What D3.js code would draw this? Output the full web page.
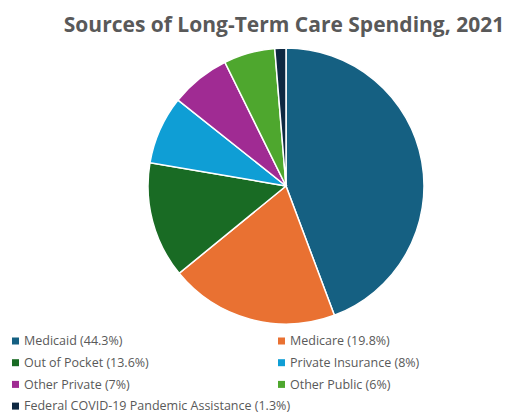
<!DOCTYPE html>
<html><head><meta charset="utf-8">
<script src="https://cdn.jsdelivr.net/npm/d3@7"></script>
<style>body{margin:0;background:#fff}</style></head>
<body><svg id="c" width="522" height="417"></svg>
<script>
const categories = ["Medicaid","Medicare","Out of Pocket","Private Insurance","Other Private","Other Public","Federal COVID-19 Pandemic Assistance"];
const values = [44.3,19.8,13.6,8,7,6,1.3];
const labels = ["Medicaid (44.3%)","Medicare (19.8%)","Out of Pocket (13.6%)","Private Insurance (8%)","Other Private (7%)","Other Public (6%)","Federal COVID-19 Pandemic Assistance (1.3%)"];
const colors = ["#156082","#E97132","#196B24","#0F9ED5","#A02B93","#4EA72E","#0E2841"];

const svg = d3.select("#c");
svg.append("text").attr("x",284).attr("y",32).attr("text-anchor","middle")
  .attr("font-family","'Open Sans',sans-serif").attr("font-weight","bold").attr("font-size",21)
  .attr("fill","#595959").text("Sources of Long-Term Care Spending, 2021");

const color = d3.scaleOrdinal().domain(categories).range(colors);
const pie = d3.pie().value(d=>d.v).sort(null);
const arc = d3.arc().innerRadius(0).outerRadius(138);
const data = categories.map((c,i)=>({c, v: values[i]}));
svg.append("g").attr("transform","translate(286,186)")
  .selectAll("path").data(pie(data)).join("path")
  .attr("d",arc).attr("fill",d=>color(d.data.c))
  .attr("stroke","#fff").attr("stroke-width",1.5);

const lg = svg.append("g").attr("font-family","'Open Sans',sans-serif").attr("font-size",12.5).attr("fill","#595959");
categories.forEach((c,i)=>{
  const col=i%2, row=Math.floor(i/2);
  const x = col? 278:12, y = 341 + row*21.7;
  lg.append("rect").attr("x",x).attr("y",y-3.5).attr("width",7).attr("height",7).attr("fill",color(c));
  lg.append("text").attr("x",x+12).attr("y",y).attr("dy","0.35em").text(labels[i]);
});
</script></body></html>
